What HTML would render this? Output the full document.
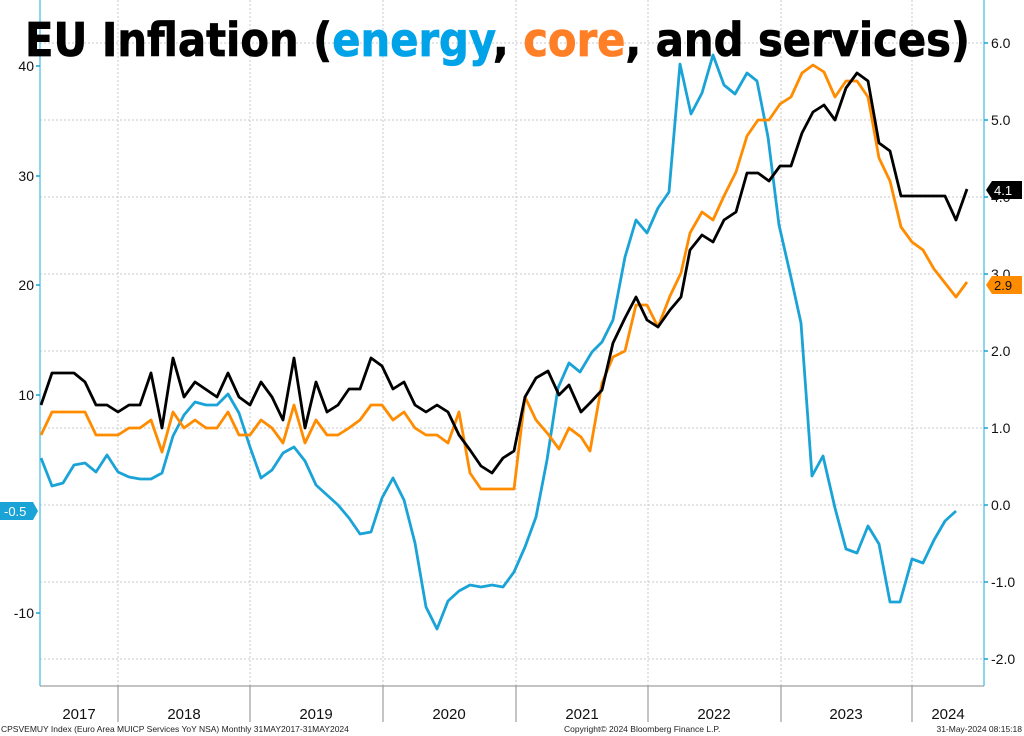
<!DOCTYPE html>
<html><head><meta charset="utf-8"><style>
html,body{margin:0;padding:0;background:#fff;}
svg{display:block;font-family:"Liberation Sans",sans-serif;}
</style></head><body>
<svg width="1024" height="736" viewBox="0 0 1024 736" xmlns="http://www.w3.org/2000/svg">
<rect width="1024" height="736" fill="#fff"/>
<g stroke="#c8c8c8" stroke-width="1" stroke-dasharray="2,2">
<line x1="40" y1="43" x2="984" y2="43"/><line x1="40" y1="120" x2="984" y2="120"/>
<line x1="40" y1="197" x2="984" y2="197"/><line x1="40" y1="274" x2="984" y2="274"/>
<line x1="40" y1="351" x2="984" y2="351"/><line x1="40" y1="428" x2="984" y2="428"/>
<line x1="40" y1="505" x2="984" y2="505"/><line x1="40" y1="582" x2="984" y2="582"/>
<line x1="40" y1="659" x2="984" y2="659"/>
<line x1="118" y1="0" x2="118" y2="686"/><line x1="250" y1="0" x2="250" y2="686"/>
<line x1="383" y1="0" x2="383" y2="686"/><line x1="516" y1="0" x2="516" y2="686"/>
<line x1="648" y1="0" x2="648" y2="686"/><line x1="781" y1="0" x2="781" y2="686"/>
<line x1="912" y1="0" x2="912" y2="686"/>
</g>
<line x1="40" y1="0" x2="40" y2="686" stroke="#66c8ec" stroke-width="1.5"/>
<line x1="984" y1="0" x2="984" y2="686" stroke="#66c8ec" stroke-width="1.5"/>
<line x1="40" y1="686" x2="984" y2="686" stroke="#888" stroke-width="1"/>
<g stroke="#888" stroke-width="1">
<line x1="118" y1="686" x2="118" y2="722"/><line x1="250" y1="686" x2="250" y2="722"/>
<line x1="383" y1="686" x2="383" y2="722"/><line x1="516" y1="686" x2="516" y2="722"/>
<line x1="648" y1="686" x2="648" y2="722"/><line x1="781" y1="686" x2="781" y2="722"/>
<line x1="912" y1="686" x2="912" y2="722"/>
</g>
<g stroke="#1aa3d6" stroke-width="1.5">
<line x1="36" y1="66" x2="40" y2="66"/><line x1="36" y1="176" x2="40" y2="176"/><line x1="36" y1="285" x2="40" y2="285"/><line x1="36" y1="395" x2="40" y2="395"/><line x1="36" y1="613" x2="40" y2="613"/>
<line x1="984" y1="43" x2="988" y2="43"/><line x1="984" y1="120" x2="988" y2="120"/><line x1="984" y1="197" x2="988" y2="197"/><line x1="984" y1="274" x2="988" y2="274"/><line x1="984" y1="351" x2="988" y2="351"/><line x1="984" y1="428" x2="988" y2="428"/><line x1="984" y1="505" x2="988" y2="505"/><line x1="984" y1="582" x2="988" y2="582"/><line x1="984" y1="659" x2="988" y2="659"/>
</g>
<g font-size="14" fill="#111" text-anchor="end">
<text x="34" y="71">40</text><text x="34" y="181">30</text><text x="34" y="290">20</text><text x="34" y="400">10</text><text x="34" y="618">-10</text>
</g>
<g font-size="14" fill="#111">
<text x="991" y="48">6.0</text><text x="991" y="125">5.0</text><text x="991" y="202">4.0</text><text x="991" y="279">3.0</text><text x="991" y="356">2.0</text><text x="991" y="433">1.0</text><text x="991" y="510">0.0</text><text x="991" y="587">-1.0</text><text x="991" y="664">-2.0</text>
</g>
<g font-size="15" fill="#111" text-anchor="middle">
<text x="79" y="719">2017</text><text x="184" y="719">2018</text><text x="316" y="719">2019</text><text x="449" y="719">2020</text><text x="582" y="719">2021</text><text x="714" y="719">2022</text><text x="846" y="719">2023</text><text x="948" y="719">2024</text>
</g>
<g font-size="8.5" fill="#222">
<text x="1" y="732">CPSVEMUY Index (Euro Area MUICP Services YoY NSA)  Monthly 31MAY2017-31MAY2024</text>
<text x="564" y="732">Copyright© 2024 Bloomberg Finance L.P.</text>
<text x="1022" y="732" text-anchor="end">31-May-2024 08:15:18</text>
</g>
<polyline fill="none" stroke="#1aa3d6" stroke-width="2.8" stroke-linejoin="round" points="41,458 52,486 63,483 74,465 85,463 96,472 107,455 118,472 129,477 140,479 151,479 162,473 173,436 184,415 195,402 206,405 217,405 228,394 239,413 250,447 261,478 272,470 283,453 294,447 305,461 316,485 327,495 338,505 349,518 360,534 371,532 382,498 393,478 404,500 415,543 426,607 437,629 448,601 459,591 470,585 481,587 492,585 503,587 514,572 525,547 536,517 547,460 558,388 569,363 580,372 592,352 602,342 613,320 625,257 636,220 647,233 658,208 669,192 680,64 691,114 702,93 713,55 724,85 735,94 747,73 757,81 768,137 779,225 790,273 801,323 812,476 823,456 835,508 846,549 857,553 868,526 879,544 890,602 900,602 912,559 923,563 934,540 945,521 956,511"/>
<polyline fill="none" stroke="#ff8c00" stroke-width="2.8" stroke-linejoin="round" points="41,435 52,412 85,412 96,435 118,435 129,428 140,428 151,420 162,452 173,412 184,428 195,420 206,428 217,428 228,412 239,435 250,435 261,420 272,428 283,443 294,405 305,443 316,420 327,435 338,435 349,428 360,420 371,405 382,405 393,420 404,412 415,428 426,435 437,435 448,443 459,412 470,473 481,489 514,489 525,397 536,420 548,434 559,449 569,428 581,437 590,451 602,383 613,357 625,351 636,305 647,305 658,327 670,296 681,273 690,233 702,212 713,220 724,196 736,172 747,136 758,120 769,120 780,104 791,97 802,73 813,65 824,72 835,97 846,81 857,81 868,97 879,158 890,181 901,227 912,242 923,250 934,269 945,283 956,297 967,282"/>
<polyline fill="none" stroke="#000" stroke-width="2.8" stroke-linejoin="round" points="41,405 52,373 74,373 85,382 96,405 107,405 118,412 129,405 140,405 151,373 162,428 173,358 184,397 195,382 217,397 228,373 239,397 250,405 261,382 272,397 283,420 294,358 305,428 316,382 327,412 338,405 349,389 360,389 371,358 382,366 393,389 404,382 415,405 426,412 437,405 448,412 459,435 470,450 481,466 492,473 503,458 514,451 525,397 536,378 548,371 559,395 569,385 581,412 590,403 602,390 613,343 625,318 636,297 647,320 658,327 670,310 681,297 690,250 702,235 713,242 724,220 736,212 747,173 758,173 769,181 780,166 791,166 802,133 813,112 824,105 835,120 846,88 857,73 868,81 879,143 890,151 901,196 945,196 956,220 967,189"/>
<path d="M0,502 L33,502 L38,511 L33,520 L0,520 Z" fill="#1aa3d6"/>
<text x="4" y="516" font-size="13" fill="#fff">-0.5</text>
<path d="M986,190 L992,181 L1022,181 L1022,199 L992,199 Z" fill="#000"/>
<text x="994" y="195" font-size="13" fill="#fff">4.1</text>
<path d="M986,285 L992,276 L1022,276 L1022,294 L992,294 Z" fill="#ff8c00"/>
<text x="994" y="290" font-size="13" fill="#111">2.9</text>
<text x="25" y="56" font-size="46" font-weight="bold" font-family="'DejaVu Sans','Liberation Sans',sans-serif" textLength="945" lengthAdjust="spacingAndGlyphs" fill="#000" stroke="#000" stroke-width="0.8">EU Inflation (<tspan fill="#00a2e8" stroke="#00a2e8">energy</tspan>, <tspan fill="#ff7f27" stroke="#ff7f27">core</tspan>, and services)</text>
</svg>
</body></html>
